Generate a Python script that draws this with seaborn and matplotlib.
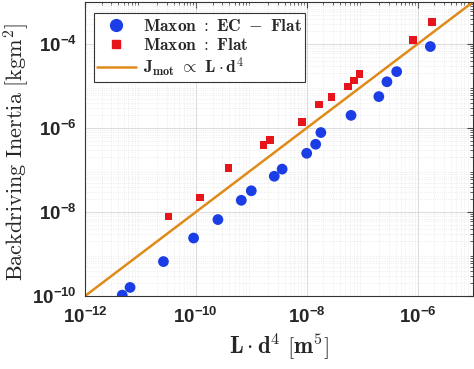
import numpy as np
import pandas as pd
import seaborn as sns
import matplotlib.pyplot as plt
from matplotlib.lines import Line2D

# Maxon EC-Flat motors
ec_flat_x = [4.7e-12, 6.5e-12, 2.6e-11, 9.1e-11, 2.5e-10, 6.6e-10, 1.0e-9, 2.6e-9, 3.6e-9,
             1.0e-8, 1.45e-8, 1.8e-8, 6.3e-8, 2.0e-7, 2.8e-7, 4.2e-7, 1.7e-6]
ec_flat_y = [1.05e-10, 1.6e-10, 6.6e-10, 2.4e-9, 6.6e-9, 1.9e-8, 3.2e-8, 7.1e-8, 1.05e-7,
             2.5e-7, 4.1e-7, 7.8e-7, 2.0e-6, 5.6e-6, 1.26e-5, 2.2e-5, 8.7e-5]

# Maxon Flat motors
flat_x = [3.2e-11, 1.2e-10, 3.9e-10, 1.66e-9, 2.2e-9, 8.3e-9, 1.66e-8, 2.8e-8, 5.5e-8,
          7.1e-8, 8.9e-8, 8.3e-7, 1.8e-6]
flat_y = [7.8e-9, 2.2e-8, 1.1e-7, 3.9e-7, 5.1e-7, 1.4e-6, 3.6e-6, 5.4e-6, 9.8e-6,
          1.35e-5, 1.9e-5, 1.26e-4, 3.3e-4]

# J_mot = k * L * d^4
fit_coeff = 1e2
x_range = [1e-12, 1e-5]
y_range = [1e-10, 1e-3]
x_ticks = [1e-12, 1e-10, 1e-8, 1e-6]
y_ticks = [1e-10, 1e-8, 1e-6, 1e-4]

labels = [r"$\mathbf{Maxon\ :\ EC\ -\ Flat}$", r"$\mathbf{Maxon\ :\ Flat}$",
          r"$\mathbf{J_{mot}\ \propto\ L\cdot d^4}$"]

df = pd.concat([
    pd.DataFrame({"x": ec_flat_x, "y": ec_flat_y, "motor": "EC-Flat"}),
    pd.DataFrame({"x": flat_x, "y": flat_y, "motor": "Flat"}),
])
line_df = pd.DataFrame({"x": x_range, "y": [fit_coeff * v for v in x_range]})

sns.set_style("whitegrid")
plt.rcParams["font.family"] = ["DejaVu Sans"]
plt.rcParams["mathtext.fontset"] = "custom"
plt.rcParams["mathtext.bf"] = "Liberation Sans:bold"
plt.rcParams["mathtext.rm"] = "Liberation Sans:bold"

fig, ax = plt.subplots(figsize=(4.74, 3.69), dpi=100)
fig.subplots_adjust(left=85 / 474, right=473 / 474, top=1 - 2 / 369, bottom=1 - 296 / 369)

blue, red, orange = "#1a3de6", "#e8141c", "#e08a1a"

sns.lineplot(data=line_df, x="x", y="y", color=orange, lw=1.8, ax=ax, zorder=2)
sns.scatterplot(data=df[df.motor == "EC-Flat"], x="x", y="y", color=blue, marker="o",
                s=60, edgecolor="none", ax=ax, zorder=3)
sns.scatterplot(data=df[df.motor == "Flat"], x="x", y="y", color=red, marker="s",
                s=30, edgecolor="none", ax=ax, zorder=3)

ax.set_xscale("log")
ax.set_yscale("log")
ax.set_xlim(x_range)
ax.set_ylim(y_range)

ax.set_xticks(x_ticks, labels=[r"$\mathbf{10^{%d}}$" % round(np.log10(t)) for t in x_ticks])
ax.set_yticks(y_ticks, labels=[r"$\mathbf{10^{%d}}$" % round(np.log10(t)) for t in y_ticks])
for t in ax.get_xticklabels() + ax.get_yticklabels():
    t.set_fontsize(13.5)

ax.grid(True, which="major", color="#d4d4d4", lw=0.6)
ax.grid(True, which="minor", color="#e2e2e2", lw=0.5, ls=":")
ax.tick_params(which="both", direction="in", top=True, right=True, color="#444444")
ax.tick_params(axis="x", which="major", length=4, pad=8)
ax.tick_params(axis="y", which="major", length=4, pad=6)
ax.tick_params(which="minor", length=2)
for sp in ax.spines.values():
    sp.set_color("#333333")
    sp.set_linewidth(0.8)

ax.set_xlabel(r"$\mathbf{L\cdot d^4\ [m^5]}$", fontsize=16.5, math_fontfamily="cm")
ax.set_ylabel(r"$\mathrm{Backdriving\ Inertia\ [kgm^2]}$", fontsize=16, math_fontfamily="cm")
ax.xaxis.set_label_coords(0.5, -0.12)
ax.yaxis.set_label_coords(-0.14, 0.49)

handles = [
    Line2D([], [], marker="o", color=blue, ls="none", markersize=8.5),
    Line2D([], [], marker="s", color=red, ls="none", markersize=5.5),
    Line2D([], [], color=orange, lw=1.8),
]
leg = ax.legend(handles, labels, loc="upper left", bbox_to_anchor=(0.023, 0.962),
                fancybox=False, framealpha=1, edgecolor="#333333", fontsize=12.5,
                handlelength=2.2, borderpad=0.2, labelspacing=0.08, handletextpad=0.4,
                borderaxespad=0)
leg.get_frame().set_linewidth(0.8)
for t in leg.get_texts():
    t.set_math_fontfamily("cm")

fig.savefig("out.png", dpi=100)
